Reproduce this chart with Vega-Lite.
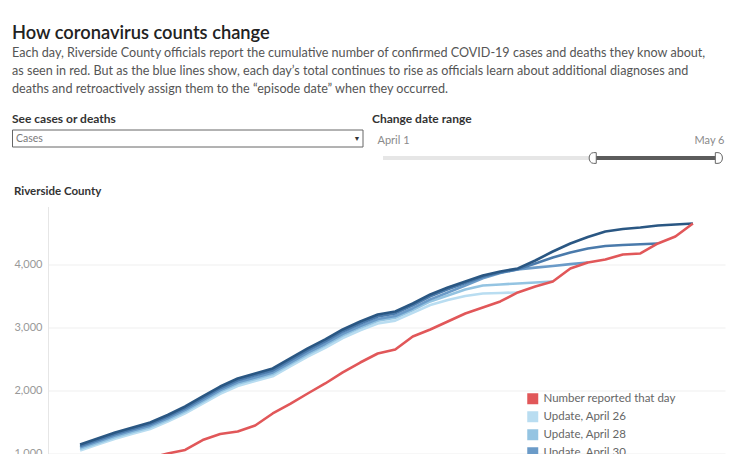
{
  "$schema": "https://vega.github.io/schema/vega-lite/v6.json",
  "background": "white",
  "padding": {"left": 12, "top": 23, "right": 5, "bottom": 5},
  "config": {
    "font": "Lato",
    "view": {"stroke": null}
  },
  "title": {
    "text": "How coronavirus counts change",
    "subtitle": [
      "Each day, Riverside County officials report the cumulative number of confirmed COVID-19 cases and deaths they know about,",
      "as seen in red. But as the blue lines show, each day’s total continues to rise as officials learn about additional diagnoses and",
      "deaths and retroactively assign them to the “episode date” when they occurred."
    ],
    "anchor": "start",
    "frame": "bounds",
    "fontSize": 18.3,
    "fontWeight": 600,
    "color": "#222222",
    "subtitleFontSize": 12.6,
    "subtitleColor": "#555555",
    "subtitleLineHeight": 18.3,
    "subtitlePadding": 4,
    "offset": 15.5
  },
  "columns": 1,
  "align": "none",
  "spacing": 19.5,
  "concat": [
    {
      "columns": 2,
      "align": "none",
      "spacing": 8,
      "concat": [
        {
          "title": {"text": "See cases or deaths", "anchor": "start", "frame": "group", "fontSize": 12, "fontWeight": "bold", "color": "#333333", "offset": 4, "dx": -36},
          "width": 315,
          "height": 17,
          "data": {"values": [{"choice": "Cases"}]},
          "layer": [
            {
              "mark": {"type": "rect", "fill": "white", "stroke": "#666666", "strokeWidth": 1},
              "encoding": {
                "x": {"datum": -35.5, "type": "quantitative", "scale": {"domain": [0, 315], "nice": false, "zero": false}, "axis": null},
                "x2": {"datum": 315},
                "y": {"datum": 0, "type": "quantitative", "scale": {"domain": [0, 17], "nice": false, "zero": false}, "axis": null},
                "y2": {"datum": 17}
              }
            },
            {
              "mark": {"type": "text", "align": "left", "baseline": "middle", "fontSize": 10.5, "color": "#7a7a7a"},
              "encoding": {
                "text": {"field": "choice"},
                "x": {"datum": -32, "type": "quantitative"}
              }
            },
            {
              "mark": {"type": "text", "align": "center", "baseline": "middle", "fontSize": 7, "color": "#333333", "text": "▼"},
              "encoding": {
                "x": {"datum": 309, "type": "quantitative"}
              }
            }
          ]
        },
        {
          "title": {"text": "Change date range", "anchor": "start", "frame": "group", "fontSize": 12, "fontWeight": "bold", "color": "#333333", "offset": 4, "dx": -11},
          "width": 335,
          "height": 34,
          "data": {"values": [{"first": "2020-04-01", "last": "2020-05-06", "from": "2020-04-23", "to": "2020-05-06"}]},
          "encoding": {
            "y": {"datum": 28, "type": "quantitative", "scale": {"domain": [0, 34], "reverse": true, "nice": false, "zero": false}, "axis": null}
          },
          "layer": [
            {
              "mark": {"type": "rule", "color": "#e6e6e6", "strokeWidth": 4},
              "encoding": {
                "x": {
                  "field": "first", "type": "temporal",
                  "scale": {"type": "utc", "domain": [{"year": 2020, "month": 4, "date": 1, "utc": true}, {"year": 2020, "month": 5, "date": 6, "utc": true}]},
                  "axis": {
                    "orient": "top", "title": null, "grid": false, "domain": false, "ticks": false,
                    "values": [{"year": 2020, "month": 4, "date": 1, "utc": true}, {"year": 2020, "month": 5, "date": 6, "utc": true}],
                    "format": "%B %-d", "labelFlush": true, "labelFlushOffset": 6, "labelColor": "#8a8a8a", "labelFontSize": 11, "labelPadding": -15
                  }
                },
                "x2": {"field": "last"}
              }
            },
            {
              "mark": {"type": "rule", "color": "#5c5c5c", "strokeWidth": 4},
              "encoding": {
                "x": {"field": "from", "type": "temporal"},
                "x2": {"field": "to"}
              }
            },
            {
              "mark": {"type": "point", "shape": "M0.5,-1L0,-1C-1.1,-1 -1.1,1 0,1L0.5,1Z", "filled": true, "fill": "white", "stroke": "#666666", "strokeWidth": 1, "size": 115, "opacity": 1},
              "encoding": {"x": {"field": "from", "type": "temporal"}}
            },
            {
              "mark": {"type": "point", "shape": "M-0.5,-1L0,-1C1.1,-1 1.1,1 0,1L-0.5,1Z", "filled": true, "fill": "white", "stroke": "#666666", "strokeWidth": 1, "size": 115, "opacity": 1},
              "encoding": {"x": {"field": "to", "type": "temporal"}}
            }
          ]
        }
      ]
    },
    {
      "title": {"text": "Riverside County", "anchor": "start", "frame": "bounds", "fontSize": 11.5, "fontWeight": "bold", "color": "#333333", "offset": 9, "dx": 0},
      "width": 677,
      "height": 310,
      "data": {"values": [
        {"date": "2020-04-01", "series": "Update, April 26", "cases": 1048},
        {"date": "2020-04-02", "series": "Update, April 26", "cases": 1141},
        {"date": "2020-04-03", "series": "Update, April 26", "cases": 1234},
        {"date": "2020-04-04", "series": "Update, April 26", "cases": 1312},
        {"date": "2020-04-05", "series": "Update, April 26", "cases": 1389},
        {"date": "2020-04-06", "series": "Update, April 26", "cases": 1505},
        {"date": "2020-04-07", "series": "Update, April 26", "cases": 1637},
        {"date": "2020-04-08", "series": "Update, April 26", "cases": 1793},
        {"date": "2020-04-09", "series": "Update, April 26", "cases": 1948},
        {"date": "2020-04-10", "series": "Update, April 26", "cases": 2072},
        {"date": "2020-04-11", "series": "Update, April 26", "cases": 2149},
        {"date": "2020-04-12", "series": "Update, April 26", "cases": 2225},
        {"date": "2020-04-13", "series": "Update, April 26", "cases": 2381},
        {"date": "2020-04-14", "series": "Update, April 26", "cases": 2537},
        {"date": "2020-04-15", "series": "Update, April 26", "cases": 2677},
        {"date": "2020-04-16", "series": "Update, April 26", "cases": 2832},
        {"date": "2020-04-17", "series": "Update, April 26", "cases": 2956},
        {"date": "2020-04-18", "series": "Update, April 26", "cases": 3064},
        {"date": "2020-04-19", "series": "Update, April 26", "cases": 3109},
        {"date": "2020-04-20", "series": "Update, April 26", "cases": 3231},
        {"date": "2020-04-21", "series": "Update, April 26", "cases": 3357},
        {"date": "2020-04-22", "series": "Update, April 26", "cases": 3437},
        {"date": "2020-04-23", "series": "Update, April 26", "cases": 3500},
        {"date": "2020-04-24", "series": "Update, April 26", "cases": 3540},
        {"date": "2020-04-25", "series": "Update, April 26", "cases": 3548},
        {"date": "2020-04-26", "series": "Update, April 26", "cases": 3556},
        {"date": "2020-04-01", "series": "Update, April 28", "cases": 1073},
        {"date": "2020-04-02", "series": "Update, April 28", "cases": 1167},
        {"date": "2020-04-03", "series": "Update, April 28", "cases": 1261},
        {"date": "2020-04-04", "series": "Update, April 28", "cases": 1340},
        {"date": "2020-04-05", "series": "Update, April 28", "cases": 1418},
        {"date": "2020-04-06", "series": "Update, April 28", "cases": 1535},
        {"date": "2020-04-07", "series": "Update, April 28", "cases": 1668},
        {"date": "2020-04-08", "series": "Update, April 28", "cases": 1825},
        {"date": "2020-04-09", "series": "Update, April 28", "cases": 1981},
        {"date": "2020-04-10", "series": "Update, April 28", "cases": 2106},
        {"date": "2020-04-11", "series": "Update, April 28", "cases": 2184},
        {"date": "2020-04-12", "series": "Update, April 28", "cases": 2261},
        {"date": "2020-04-13", "series": "Update, April 28", "cases": 2418},
        {"date": "2020-04-14", "series": "Update, April 28", "cases": 2575},
        {"date": "2020-04-15", "series": "Update, April 28", "cases": 2716},
        {"date": "2020-04-16", "series": "Update, April 28", "cases": 2872},
        {"date": "2020-04-17", "series": "Update, April 28", "cases": 2997},
        {"date": "2020-04-18", "series": "Update, April 28", "cases": 3106},
        {"date": "2020-04-19", "series": "Update, April 28", "cases": 3153},
        {"date": "2020-04-20", "series": "Update, April 28", "cases": 3278},
        {"date": "2020-04-21", "series": "Update, April 28", "cases": 3413},
        {"date": "2020-04-22", "series": "Update, April 28", "cases": 3508},
        {"date": "2020-04-23", "series": "Update, April 28", "cases": 3603},
        {"date": "2020-04-24", "series": "Update, April 28", "cases": 3667},
        {"date": "2020-04-25", "series": "Update, April 28", "cases": 3683},
        {"date": "2020-04-26", "series": "Update, April 28", "cases": 3698},
        {"date": "2020-04-27", "series": "Update, April 28", "cases": 3714},
        {"date": "2020-04-28", "series": "Update, April 28", "cases": 3730},
        {"date": "2020-04-01", "series": "Update, April 30", "cases": 1098},
        {"date": "2020-04-02", "series": "Update, April 30", "cases": 1192},
        {"date": "2020-04-03", "series": "Update, April 30", "cases": 1286},
        {"date": "2020-04-04", "series": "Update, April 30", "cases": 1365},
        {"date": "2020-04-05", "series": "Update, April 30", "cases": 1442},
        {"date": "2020-04-06", "series": "Update, April 30", "cases": 1559},
        {"date": "2020-04-07", "series": "Update, April 30", "cases": 1692},
        {"date": "2020-04-08", "series": "Update, April 30", "cases": 1849},
        {"date": "2020-04-09", "series": "Update, April 30", "cases": 2005},
        {"date": "2020-04-10", "series": "Update, April 30", "cases": 2130},
        {"date": "2020-04-11", "series": "Update, April 30", "cases": 2208},
        {"date": "2020-04-12", "series": "Update, April 30", "cases": 2286},
        {"date": "2020-04-13", "series": "Update, April 30", "cases": 2443},
        {"date": "2020-04-14", "series": "Update, April 30", "cases": 2601},
        {"date": "2020-04-15", "series": "Update, April 30", "cases": 2742},
        {"date": "2020-04-16", "series": "Update, April 30", "cases": 2898},
        {"date": "2020-04-17", "series": "Update, April 30", "cases": 3023},
        {"date": "2020-04-18", "series": "Update, April 30", "cases": 3134},
        {"date": "2020-04-19", "series": "Update, April 30", "cases": 3182},
        {"date": "2020-04-20", "series": "Update, April 30", "cases": 3306},
        {"date": "2020-04-21", "series": "Update, April 30", "cases": 3446},
        {"date": "2020-04-22", "series": "Update, April 30", "cases": 3556},
        {"date": "2020-04-23", "series": "Update, April 30", "cases": 3665},
        {"date": "2020-04-24", "series": "Update, April 30", "cases": 3780},
        {"date": "2020-04-25", "series": "Update, April 30", "cases": 3864},
        {"date": "2020-04-26", "series": "Update, April 30", "cases": 3922},
        {"date": "2020-04-27", "series": "Update, April 30", "cases": 3950},
        {"date": "2020-04-28", "series": "Update, April 30", "cases": 3976},
        {"date": "2020-04-29", "series": "Update, April 30", "cases": 4005},
        {"date": "2020-04-30", "series": "Update, April 30", "cases": 4032},
        {"date": "2020-04-01", "series": "Update, May 4", "cases": 1119},
        {"date": "2020-04-02", "series": "Update, May 4", "cases": 1213},
        {"date": "2020-04-03", "series": "Update, May 4", "cases": 1308},
        {"date": "2020-04-04", "series": "Update, May 4", "cases": 1388},
        {"date": "2020-04-05", "series": "Update, May 4", "cases": 1467},
        {"date": "2020-04-06", "series": "Update, May 4", "cases": 1586},
        {"date": "2020-04-07", "series": "Update, May 4", "cases": 1720},
        {"date": "2020-04-08", "series": "Update, May 4", "cases": 1879},
        {"date": "2020-04-09", "series": "Update, May 4", "cases": 2036},
        {"date": "2020-04-10", "series": "Update, May 4", "cases": 2162},
        {"date": "2020-04-11", "series": "Update, May 4", "cases": 2241},
        {"date": "2020-04-12", "series": "Update, May 4", "cases": 2319},
        {"date": "2020-04-13", "series": "Update, May 4", "cases": 2477},
        {"date": "2020-04-14", "series": "Update, May 4", "cases": 2636},
        {"date": "2020-04-15", "series": "Update, May 4", "cases": 2779},
        {"date": "2020-04-16", "series": "Update, May 4", "cases": 2937},
        {"date": "2020-04-17", "series": "Update, May 4", "cases": 3064},
        {"date": "2020-04-18", "series": "Update, May 4", "cases": 3175},
        {"date": "2020-04-19", "series": "Update, May 4", "cases": 3223},
        {"date": "2020-04-20", "series": "Update, May 4", "cases": 3350},
        {"date": "2020-04-21", "series": "Update, May 4", "cases": 3493},
        {"date": "2020-04-22", "series": "Update, May 4", "cases": 3606},
        {"date": "2020-04-23", "series": "Update, May 4", "cases": 3705},
        {"date": "2020-04-24", "series": "Update, May 4", "cases": 3805},
        {"date": "2020-04-25", "series": "Update, May 4", "cases": 3872},
        {"date": "2020-04-26", "series": "Update, May 4", "cases": 3925},
        {"date": "2020-04-27", "series": "Update, May 4", "cases": 4016},
        {"date": "2020-04-28", "series": "Update, May 4", "cases": 4111},
        {"date": "2020-04-29", "series": "Update, May 4", "cases": 4190},
        {"date": "2020-04-30", "series": "Update, May 4", "cases": 4254},
        {"date": "2020-05-01", "series": "Update, May 4", "cases": 4294},
        {"date": "2020-05-02", "series": "Update, May 4", "cases": 4310},
        {"date": "2020-05-03", "series": "Update, May 4", "cases": 4322},
        {"date": "2020-05-04", "series": "Update, May 4", "cases": 4333},
        {"date": "2020-04-01", "series": "Update, May 6", "cases": 1143},
        {"date": "2020-04-02", "series": "Update, May 6", "cases": 1238},
        {"date": "2020-04-03", "series": "Update, May 6", "cases": 1333},
        {"date": "2020-04-04", "series": "Update, May 6", "cases": 1413},
        {"date": "2020-04-05", "series": "Update, May 6", "cases": 1492},
        {"date": "2020-04-06", "series": "Update, May 6", "cases": 1611},
        {"date": "2020-04-07", "series": "Update, May 6", "cases": 1746},
        {"date": "2020-04-08", "series": "Update, May 6", "cases": 1905},
        {"date": "2020-04-09", "series": "Update, May 6", "cases": 2063},
        {"date": "2020-04-10", "series": "Update, May 6", "cases": 2190},
        {"date": "2020-04-11", "series": "Update, May 6", "cases": 2270},
        {"date": "2020-04-12", "series": "Update, May 6", "cases": 2349},
        {"date": "2020-04-13", "series": "Update, May 6", "cases": 2508},
        {"date": "2020-04-14", "series": "Update, May 6", "cases": 2667},
        {"date": "2020-04-15", "series": "Update, May 6", "cases": 2810},
        {"date": "2020-04-16", "series": "Update, May 6", "cases": 2968},
        {"date": "2020-04-17", "series": "Update, May 6", "cases": 3095},
        {"date": "2020-04-18", "series": "Update, May 6", "cases": 3206},
        {"date": "2020-04-19", "series": "Update, May 6", "cases": 3254},
        {"date": "2020-04-20", "series": "Update, May 6", "cases": 3381},
        {"date": "2020-04-21", "series": "Update, May 6", "cases": 3524},
        {"date": "2020-04-22", "series": "Update, May 6", "cases": 3635},
        {"date": "2020-04-23", "series": "Update, May 6", "cases": 3730},
        {"date": "2020-04-24", "series": "Update, May 6", "cases": 3825},
        {"date": "2020-04-25", "series": "Update, May 6", "cases": 3889},
        {"date": "2020-04-26", "series": "Update, May 6", "cases": 3937},
        {"date": "2020-04-27", "series": "Update, May 6", "cases": 4063},
        {"date": "2020-04-28", "series": "Update, May 6", "cases": 4206},
        {"date": "2020-04-29", "series": "Update, May 6", "cases": 4333},
        {"date": "2020-04-30", "series": "Update, May 6", "cases": 4437},
        {"date": "2020-05-01", "series": "Update, May 6", "cases": 4524},
        {"date": "2020-05-02", "series": "Update, May 6", "cases": 4563},
        {"date": "2020-05-03", "series": "Update, May 6", "cases": 4587},
        {"date": "2020-05-04", "series": "Update, May 6", "cases": 4619},
        {"date": "2020-05-05", "series": "Update, May 6", "cases": 4635},
        {"date": "2020-05-06", "series": "Update, May 6", "cases": 4651},
        {"date": "2020-04-01", "series": "Number reported that day", "cases": 600},
        {"date": "2020-04-02", "series": "Number reported that day", "cases": 680},
        {"date": "2020-04-03", "series": "Number reported that day", "cases": 760},
        {"date": "2020-04-04", "series": "Number reported that day", "cases": 850},
        {"date": "2020-04-05", "series": "Number reported that day", "cases": 930},
        {"date": "2020-04-06", "series": "Number reported that day", "cases": 1000},
        {"date": "2020-04-07", "series": "Number reported that day", "cases": 1056},
        {"date": "2020-04-08", "series": "Number reported that day", "cases": 1214},
        {"date": "2020-04-09", "series": "Number reported that day", "cases": 1310},
        {"date": "2020-04-10", "series": "Number reported that day", "cases": 1349},
        {"date": "2020-04-11", "series": "Number reported that day", "cases": 1444},
        {"date": "2020-04-12", "series": "Number reported that day", "cases": 1635},
        {"date": "2020-04-13", "series": "Number reported that day", "cases": 1786},
        {"date": "2020-04-14", "series": "Number reported that day", "cases": 1952},
        {"date": "2020-04-15", "series": "Number reported that day", "cases": 2111},
        {"date": "2020-04-16", "series": "Number reported that day", "cases": 2286},
        {"date": "2020-04-17", "series": "Number reported that day", "cases": 2444},
        {"date": "2020-04-18", "series": "Number reported that day", "cases": 2587},
        {"date": "2020-04-19", "series": "Number reported that day", "cases": 2651},
        {"date": "2020-04-20", "series": "Number reported that day", "cases": 2857},
        {"date": "2020-04-21", "series": "Number reported that day", "cases": 2968},
        {"date": "2020-04-22", "series": "Number reported that day", "cases": 3095},
        {"date": "2020-04-23", "series": "Number reported that day", "cases": 3222},
        {"date": "2020-04-24", "series": "Number reported that day", "cases": 3317},
        {"date": "2020-04-25", "series": "Number reported that day", "cases": 3413},
        {"date": "2020-04-26", "series": "Number reported that day", "cases": 3556},
        {"date": "2020-04-27", "series": "Number reported that day", "cases": 3651},
        {"date": "2020-04-28", "series": "Number reported that day", "cases": 3730},
        {"date": "2020-04-29", "series": "Number reported that day", "cases": 3937},
        {"date": "2020-04-30", "series": "Number reported that day", "cases": 4032},
        {"date": "2020-05-01", "series": "Number reported that day", "cases": 4079},
        {"date": "2020-05-02", "series": "Number reported that day", "cases": 4159},
        {"date": "2020-05-03", "series": "Number reported that day", "cases": 4175},
        {"date": "2020-05-04", "series": "Number reported that day", "cases": 4333},
        {"date": "2020-05-05", "series": "Number reported that day", "cases": 4444},
        {"date": "2020-05-06", "series": "Number reported that day", "cases": 4651}
      ]},
      "encoding": {
        "x": {
          "field": "date", "type": "temporal",
          "scale": {"type": "utc", "domain": [{"year": 2020, "month": 3, "date": 30, "hours": 4, "utc": true}, {"year": 2020, "month": 5, "date": 7, "hours": 20, "utc": true}]},
          "axis": {"format": "%b %-d", "title": null, "grid": false, "domain": false, "ticks": false, "labelColor": "#999999", "labelFontSize": 11}
        },
        "y": {
          "field": "cases", "type": "quantitative",
          "scale": {"domain": [0, 4920], "nice": false},
          "axis": {"values": [0, 1000, 2000, 3000, 4000], "format": ",.0f", "title": null, "ticks": false, "domainColor": "#e6e6e6", "gridColor": "#efefef", "labelColor": "#999999", "labelFontSize": 11, "labelPadding": 6}
        },
        "color": {
          "field": "series", "type": "nominal",
          "scale": {
            "domain": ["Number reported that day", "Update, April 26", "Update, April 28", "Update, April 30", "Update, May 4", "Update, May 6"],
            "range": ["#e15759", "#b9ddf1", "#94c4e2", "#6b9bc8", "#4a7aab", "#2a5783"]
          },
          "legend": {
            "orient": "none", "legendX": 479, "legendY": 263, "title": null, "padding": 0,
            "symbolType": "square", "symbolSize": 121, "symbolStrokeWidth": 0,
            "labelFontSize": 11.5, "labelColor": "#666666", "labelOffset": 5, "rowPadding": 5,
            "encode": {"symbols": {"update": {"fill": {"scale": "color", "field": "value"}, "fillOpacity": {"value": 1}}}}
          }
        }
      },
      "layer": [
        {
          "transform": [{"filter": "datum.series != 'Number reported that day'"}],
          "mark": {"type": "line", "strokeWidth": 2.6, "strokeJoin": "round"}
        },
        {
          "transform": [{"filter": "datum.series == 'Number reported that day'"}],
          "mark": {"type": "line", "strokeWidth": 2.6, "strokeJoin": "round"}
        }
      ]
    }
  ]
}
